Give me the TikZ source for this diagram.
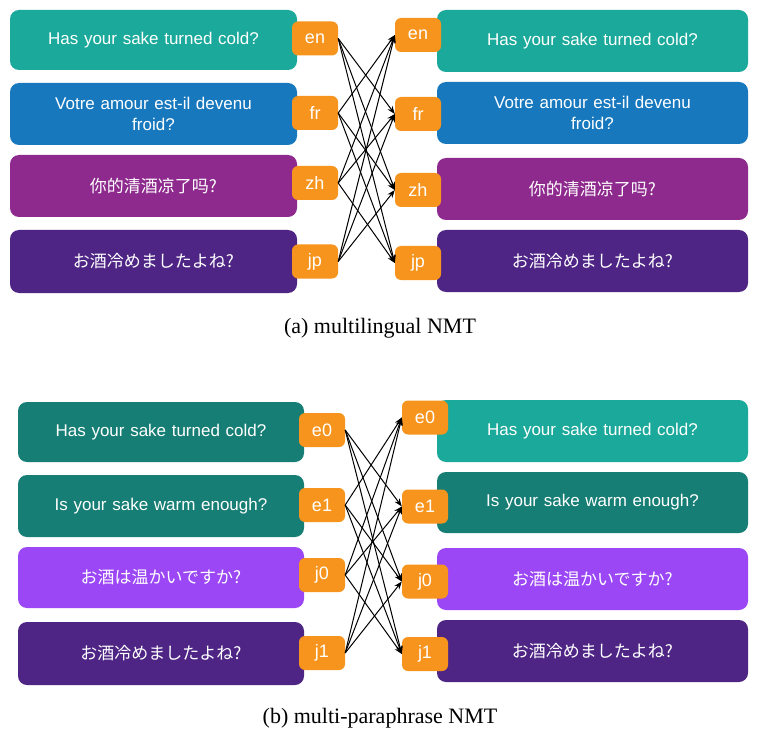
\documentclass[tikz,border=0pt]{standalone}
\usepackage{fontspec}
\setmainfont{Liberation Serif}
\newfontfamily\lsans{Liberation Sans}
\newfontfamily\cjkjp{Noto Sans CJK JP}
\newfontfamily\cjksc{Noto Sans CJK SC}
\usetikzlibrary{arrows.meta}
\definecolor{cteal}{HTML}{1AA99A}
\definecolor{cblue}{HTML}{1778BE}
\definecolor{cpurp}{HTML}{8E2A8E}
\definecolor{cdark}{HTML}{4E2585}
\definecolor{cdteal}{HTML}{167E74}
\definecolor{cviol}{HTML}{9B47F5}
\definecolor{corange}{HTML}{F7941D}
\tikzset{
  sbox/.style={rounded corners=9pt, text=white, align=center, text width=270pt, inner sep=0pt,
    font=\lsans\fontsize{17}{21}\selectfont},
  tagbox/.style={fill=corange, rounded corners=6pt, text=white, minimum width=46pt, minimum height=34pt,
    inner sep=0pt, font=\lsans\fontsize{18}{20}\selectfont},
  conn/.style={-{Stealth[length=8pt,width=6pt]}, line width=1pt},
  captext/.style={font=\fontsize{22}{26}\selectfont}
}
\newcommand{\bx}[7]{% name, x1, y1, x2, y2, color, text
  \node[sbox, fill=#6, minimum width={(#4-#2)*1pt}, minimum height={(#5-#3)*1pt}] (#1) at ({(#2+#4)/2*1pt},{-(#3+#5)/2*1pt}) {#7};}
\newcommand{\tg}[5]{% name, xc, y1, y2, text
  \node[tagbox] (#1) at ({#2*1pt},{-(#3+#4)/2*1pt}) {#5};}
\begin{document}
\begin{tikzpicture}
\useasboundingbox[fill=white] (0,0) rectangle (763pt,-738pt);
% panel a
\bx{la1}{10}{10}{297}{70}{cteal}{Has your sake turned cold?}
\bx{la2}{10}{83}{297}{145}{cblue}{Votre amour est-il devenu\\froid?}
\bx{la3}{10}{155}{297}{217}{cpurp}{\cjksc 你的清酒凉了吗?}
\bx{la4}{10}{230}{297}{293}{cdark}{\cjkjp お酒冷めましたよね?}
\bx{ra1}{437}{10}{748}{72}{cteal}{Has your sake turned cold?}
\bx{ra2}{437}{82}{748}{144}{cblue}{Votre amour est-il devenu\\froid?}
\bx{ra3}{437}{158}{748}{220}{cpurp}{\cjksc 你的清酒凉了吗?}
\bx{ra4}{437}{230}{748}{292}{cdark}{\cjkjp お酒冷めましたよね?}
\tg{lta1}{315}{22}{55}{en}
\tg{lta2}{315}{96}{130}{fr}
\tg{lta3}{315}{166}{200}{zh}
\tg{lta4}{315}{245}{278}{jp}
\tg{rta1}{418}{18}{52}{en}
\tg{rta2}{418}{97}{131}{fr}
\tg{rta3}{418}{173}{207}{zh}
\tg{rta4}{418}{246}{280}{jp}
\foreach \i in {1,...,4}{\foreach \j in {1,...,4}{
  \ifnum\i=\j\else\draw[conn] (lta\i.east) -- (rta\j.west);\fi}}
\node[captext] (capa) at (380pt,-328pt) {(a) multilingual NMT};
% panel b
\bx{lb1}{18}{402}{304}{462}{cdteal}{Has your sake turned cold?}
\bx{lb2}{18}{475}{304}{537}{cdteal}{Is your sake warm enough?}
\bx{lb3}{18}{547}{304}{608}{cviol}{\cjkjp お酒は温かいですか?}
\bx{lb4}{18}{622}{304}{685}{cdark}{\cjkjp お酒冷めましたよね?}
\bx{rb1}{437}{400}{748}{462}{cteal}{Has your sake turned cold?}
\bx{rb2}{437}{472}{748}{533}{cdteal}{Is your sake warm enough?}
\bx{rb3}{437}{548}{748}{610}{cviol}{\cjkjp お酒は温かいですか?}
\bx{rb4}{437}{620}{748}{682}{cdark}{\cjkjp お酒冷めましたよね?}
\tg{ltb1}{322}{413}{447}{e0}
\tg{ltb2}{322}{488}{522}{e1}
\tg{ltb3}{322}{558}{592}{j0}
\tg{ltb4}{322}{636}{670}{j1}
\tg{rtb1}{425}{400}{435}{e0}
\tg{rtb2}{425}{490}{523}{e1}
\tg{rtb3}{425}{565}{598}{j0}
\tg{rtb4}{425}{637}{671}{j1}
\foreach \i in {1,...,4}{\foreach \j in {1,...,4}{
  \ifnum\i=\j\else\draw[conn] (ltb\i.east) -- (rtb\j.west);\fi}}
\node[captext] (capb) at (380pt,-718pt) {(b) multi-paraphrase NMT};
\end{tikzpicture}
\end{document}
